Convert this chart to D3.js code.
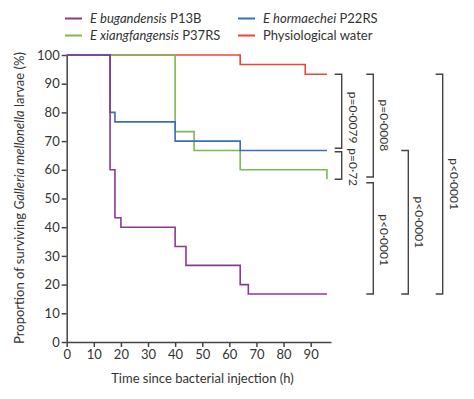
<!DOCTYPE html>
<html>
<head>
<meta charset="utf-8">
<script src="https://cdn.jsdelivr.net/npm/d3@7"></script>
<style>
	body { margin: 0; background: #fff; }
	text { font-family: Lato, "Open Sans", sans-serif; fill: #333; }
</style>
</head>
<body>
<svg id="chart" width="474" height="399"></svg>
<script>
// survival curves (time in h, % surviving)
var purpleT = [0, 16, 17.8, 20, 40, 44, 64, 67, 96];
var purpleV = [100, 60, 43.3, 40, 33.3, 26.7, 20, 16.7, 16.7];
var blueT = [0, 16, 17.8, 40, 64, 96];
var blueV = [100, 80, 76.7, 70, 66.7, 66.7];
var greenT = [0, 40, 47, 64, 96, 96];
var greenV = [100, 73.3, 66.7, 60, 60, 56.7];
var redT = [0, 64, 88, 96];
var redV = [100, 96.7, 93.3, 93.3];

var xTicks = [0, 10, 20, 30, 40, 50, 60, 70, 80, 90];
var yTicks = [0, 10, 20, 30, 40, 50, 60, 70, 80, 90, 100];

// comparison brackets: top value, bottom value, column, label, label centre
var brTop = [93.3, 66.3, 93.3, 55.5, 66.7, 93.3];
var brBottom = [67.5, 56.7, 57.5, 16.7, 16.7, 16.7];
var brCol = [0, 0, 1, 1, 2, 3];
var brLabel = ["p=0·0079", "p=0·72", "p=0·0008", "p<0·0001", "p<0·0001", "p<0·0001"];
var brLabelAt = [78.2, 60.9, 75.5, 35.5, 41.7, 55];

var series = [
	{name: "E bugandensis", strain: " P13B", color: "#8b3a8f", t: purpleT, v: purpleV},
	{name: "E hormaechei", strain: " P22RS", color: "#3a6fb7", t: blueT, v: blueV},
	{name: "E xiangfangensis", strain: " P37RS", color: "#7db955", t: greenT, v: greenV},
	{name: "", strain: "Physiological water", color: "#e8453c", t: redT, v: redV}
];

var svg = d3.select("#chart");

var x = d3.scaleLinear().domain([0, 97.5]).range([66.7, 331]);
var y = d3.scaleLinear().domain([0, 100]).range([342, 55]);

// axes
var xAxis = svg.append("g")
	.attr("transform", "translate(0," + y(0) + ")")
	.call(d3.axisBottom(x).tickValues(xTicks).tickSize(5).tickPadding(3).tickSizeOuter(0));
var yAxis = svg.append("g")
	.attr("transform", "translate(" + x(0) + ",0)")
	.call(d3.axisLeft(y).tickValues(yTicks).tickSize(5).tickPadding(2).tickSizeOuter(0));

[xAxis, yAxis].forEach(function(a) {
	a.selectAll("path, line").attr("stroke", "#444").attr("stroke-width", 1.5);
	a.selectAll("text").style("font-size", "13px").attr("fill", "#333");
});

// curves
var line = d3.line()
	.x(function(d) { return x(d[0]); })
	.y(function(d) { return y(d[1]); })
	.curve(d3.curveStepAfter);

series.slice().reverse().forEach(function(s) {
	var pts = s.t.map(function(t, i) { return [t, s.v[i]]; });
	svg.append("path")
		.attr("d", line(pts))
		.attr("fill", "none")
		.attr("stroke", s.color)
		.attr("stroke-width", 1.6);
});

// brackets
var colX = [341.7, 373.3, 408.3, 442.7];
for (var i = 0; i < brTop.length; i++) {
	var bx = colX[brCol[i]];
	var y1 = y(brTop[i]), y2 = y(brBottom[i]);
	svg.append("path")
		.attr("d", "M" + (bx - 7) + "," + y1 + "H" + bx + "V" + y2 + "H" + (bx - 7))
		.attr("fill", "none")
		.attr("stroke", "#444")
		.attr("stroke-width", 1.4);
	svg.append("text")
		.attr("transform", "translate(" + (bx + 7) + "," + y(brLabelAt[i]) + ") rotate(90)")
		.attr("text-anchor", "middle")
		.style("font-size", "12px")
		.text(brLabel[i]);
}

// legend
var legX = [65, 238];
var legY = [18.5, 35.5];
series.forEach(function(s, i) {
	var lx = legX[i % 2], ly = legY[Math.floor(i / 2)];
	svg.append("line")
		.attr("x1", lx).attr("x2", lx + 17)
		.attr("y1", ly).attr("y2", ly)
		.attr("stroke", s.color).attr("stroke-width", 2);
	var t = svg.append("text")
		.attr("x", lx + 25).attr("y", ly + 4.5)
		.style("font-size", "13px");
	if (s.name) t.append("tspan").style("font-style", "italic").text(s.name);
	t.append("tspan").text(s.strain);
});

// axis titles
svg.append("text")
	.attr("x", 202.5).attr("y", 383)
	.attr("text-anchor", "middle")
	.style("font-size", "13px")
	.text("Time since bacterial injection (h)");

var yt = svg.append("text")
	.attr("transform", "translate(24,198) rotate(-90)")
	.attr("text-anchor", "middle")
	.style("font-size", "13px");
yt.append("tspan").text("Proportion of surviving ");
yt.append("tspan").style("font-style", "italic").text("Galleria mellonella");
yt.append("tspan").text(" larvae (%)");
</script>
</body>
</html>
